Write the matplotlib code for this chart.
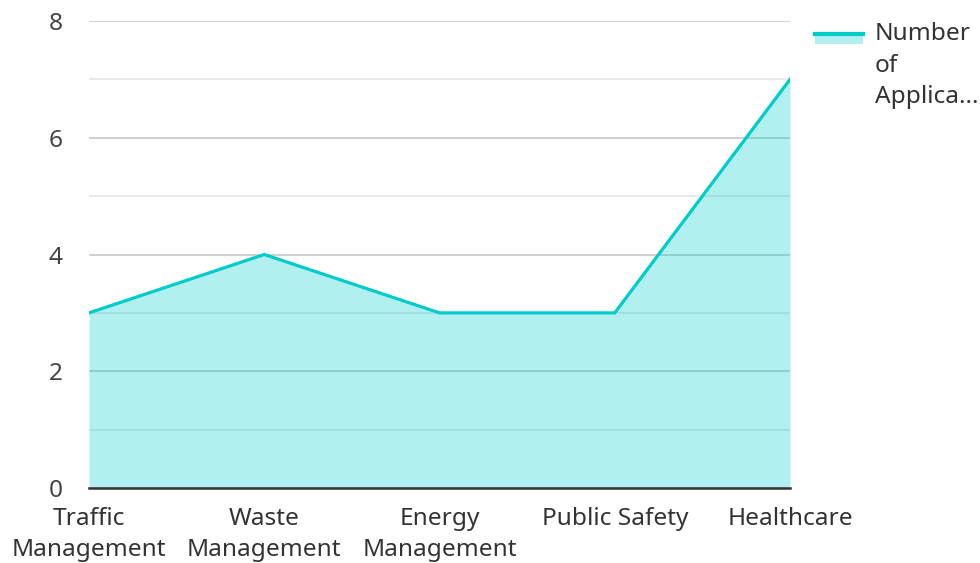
import matplotlib
matplotlib.use("Agg")
import matplotlib.pyplot as plt
from matplotlib.patches import Rectangle
from matplotlib.lines import Line2D

categories = ["Traffic\nManagement", "Waste\nManagement", "Energy\nManagement", "Public Safety", "Healthcare"]
values = [3, 4, 3, 3, 7]
series_name = "Number\nof\nApplica..."
y_ticks = [0, 2, 4, 6, 8]

plt.rcParams['font.family'] = ['Noto Sans', 'DejaVu Sans']
color = "#00CCCC"
text_color = "#333333"
fs = 17.6

W, H = 980, 563
fig = plt.figure(figsize=(W/100, H/100), dpi=100)
ax = fig.add_axes([89/W, 1-488/H, (790-89)/W, (488-21)/H])

x = list(range(len(categories)))
ax.fill_between(x, values, 0, color=color, alpha=0.3, linewidth=0, zorder=2)
ax.plot(x, values, color=color, linewidth=2.3, zorder=3, solid_joinstyle='miter')

ax.set_xlim(0, len(categories)-1)
ax.set_ylim(0, 8)
ax.set_yticks(y_ticks)
ax.set_yticks([1, 3, 5, 7], minor=True)
ax.grid(True, which='major', axis='y', color='#cccccc', linewidth=1.3, zorder=0)
ax.grid(True, which='minor', axis='y', color='#e8e8e8', linewidth=1.3, zorder=0)
ax.set_axisbelow(True)
ax.set_xticks(x)
ax.set_xticklabels(categories, fontsize=fs, color=text_color, linespacing=1.42)
ax.tick_params(axis='y', which='both', length=0, pad=19, labelsize=fs, labelcolor='#444444')
ax.tick_params(axis='x', length=0, pad=13.5)
for s in ['top', 'right', 'left']:
    ax.spines[s].set_visible(False)
ax.spines['bottom'].set_color('#333333')
ax.spines['bottom'].set_linewidth(1.8)
ax.spines['bottom'].set_zorder(4)

# legend drawn manually (handle aligned with first text line)
fig.patches.append(Rectangle((815/W, 1-44/H), 48/W, 11/H, transform=fig.transFigure,
                             facecolor=color, alpha=0.3, edgecolor='none'))
fig.lines.append(Line2D([815/W, 863/W], [1-33.5/H, 1-33.5/H], transform=fig.transFigure,
                        color=color, linewidth=3))
fig.text(875/W, 1-22/H, series_name, fontsize=fs, color=text_color, va='top', ha='left',
         linespacing=1.42)

fig.savefig("out.png", dpi=100)
